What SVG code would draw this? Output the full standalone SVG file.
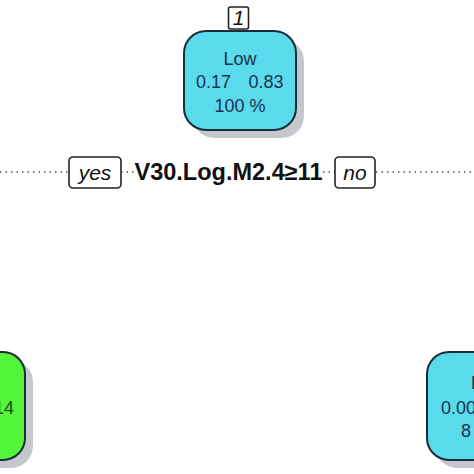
<svg xmlns="http://www.w3.org/2000/svg" width="474" height="474" viewBox="0 0 474 474">
<style>
.shadow{fill:#c4c8cc}
.node{stroke:#1a2c3a;stroke-width:2}
.cyan{fill:#5adbeb}
.green{fill:#52f53a}
.t{font-family:"Liberation Sans",Arial,sans-serif;font-size:18px;fill:#1c3150;text-anchor:middle}
.ts{font-family:"Liberation Sans",Arial,sans-serif;font-size:18px;fill:#1c3150;text-anchor:start}
.tg{font-family:"Liberation Sans",Arial,sans-serif;font-size:18px;fill:#1d4a1a;text-anchor:end}
.lab{fill:#fff;stroke:#222;stroke-width:1.6}
.it{font-family:"Liberation Sans",Arial,sans-serif;font-style:italic;font-size:21px;fill:#111;text-anchor:middle}
.split{font-family:"Liberation Sans",Arial,sans-serif;font-weight:bold;font-size:23.5px;fill:#111;text-anchor:middle}
.dot{stroke:#555;stroke-width:1.6;stroke-dasharray:1.5 4;fill:none}
</style>
<rect width="474" height="474" fill="#fff"/>
<g id="connectors">
<line class="dot" x1="0" y1="172" x2="69" y2="172"/>
<line class="dot" x1="121" y1="172" x2="134" y2="172"/>
<line class="dot" x1="323" y1="172" x2="335" y2="172"/>
<line class="dot" x1="376" y1="172" x2="474" y2="172"/>
</g>
<g id="node1">
<rect class="shadow" x="192" y="39" width="112" height="99" rx="22"/>
<rect class="node cyan" x="184" y="31" width="112" height="99" rx="22"/>
<rect class="lab" x="228.5" y="7" width="20" height="22" rx="2"/>
<text class="it" x="238.5" y="25" font-size="17">1</text>
<text class="t" x="240" y="65">Low</text>
<text class="t" x="213.5" y="88">0.17</text>
<text class="t" x="266" y="88">0.83</text>
<text class="t" x="240" y="112">100 %</text>
</g>
<g id="split">
<rect class="lab" x="69" y="157" width="52" height="31" rx="4"/>
<text class="it" x="95" y="180">yes</text>
<text class="split" x="228.5" y="180">V30.Log.M2.4≥11</text>
<rect class="lab" x="335" y="157" width="40" height="31" rx="4"/>
<text class="it" x="355" y="180">no</text>
</g>
<g id="node2">
<rect class="shadow" x="-80" y="360" width="113" height="108" rx="22"/>
<rect class="node green" x="-88" y="352" width="113" height="108" rx="22"/>
<text class="tg" x="14" y="414">14</text>
</g>
<g id="node3">
<rect class="shadow" x="435" y="360" width="113" height="108" rx="22"/>
<rect class="node cyan" x="427" y="352" width="113" height="108" rx="22"/>
<text class="ts" x="471" y="389">Low</text>
<text class="ts" x="441" y="414">0.00</text>
<text class="ts" x="461" y="437">8</text>
</g>
</svg>
